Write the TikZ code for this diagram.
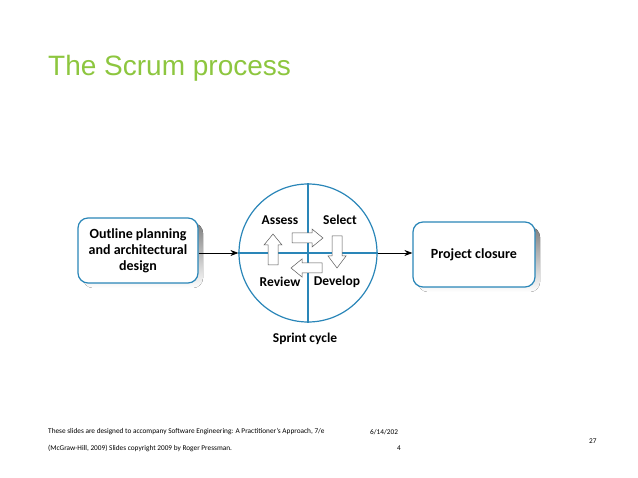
\documentclass[tikz,border=0pt]{standalone}
\usepackage{fontspec}
\setmainfont{Carlito}
\newfontfamily\arialf{Liberation Sans}
\usetikzlibrary{arrows.meta}
\definecolor{sblue}{HTML}{2A86B8}
\definecolor{shade}{HTML}{4FA8D8}
\definecolor{tgreen}{HTML}{8DC63F}
\begin{document}
\begin{tikzpicture}[x=1pt,y=-1pt,
 box/.style={draw=sblue,line width=1.2pt,rounded corners=10pt,fill=white,align=center,font=\bfseries\fontsize{14}{16}\selectfont,inner sep=0pt},
 lbl/.style={font=\bfseries\fontsize{13.5}{15}\selectfont},
 barrow/.style={draw=gray!70!black,fill=white,line width=0.5pt,line join=miter},
 conn/.style={-{Stealth[length=8pt,width=6pt]},line width=0.7pt},
 foot/.style={font=\fontsize{7.3}{8}\selectfont,anchor=west,inner sep=0pt}]
\useasboundingbox (0,0) rectangle (638,478);
\node[font=\arialf\fontsize{28}{30}\selectfont,text=tgreen,anchor=west,inner sep=0pt] (title) at (48,68) {The Scrum process};
% shadows
\fill[shade,rounded corners=10pt] (83,223) rectangle (203,288);
\fill[shade,rounded corners=10pt] (418,227) rectangle (540,292);
\node[box,minimum width=120pt,minimum height=65pt] (out) at (138,250.5) {Outline planning\\and architectural\\design};
\node[box,minimum width=122pt,minimum height=65pt] (clo) at (474,254.5) {Project closure};
\node[circle,draw=sblue,line width=1.2pt,minimum size=138pt,inner sep=0pt] (c) at (308,253) {};
\draw[sblue,line width=1.2pt] (c.north) -- (c.south) (c.west) -- (c.east);
\draw[conn] (out.east |- c.west) -- (c.west);
\draw[conn] (c.east) -- (clo.west |- c.east);
\node[lbl] (as) at (280,220) {Assess};
\node[lbl] (se) at (340,220) {Select};
\node[lbl] (re) at (280,282) {Review};
\node[lbl] (de) at (337,282) {Develop};
\node[lbl] (sp) at (305,339) {Sprint cycle};
% block arrows
\draw[barrow] (292,233) -- (312,233) -- (312,229) -- (323,238) -- (312,247) -- (312,243) -- (292,243) -- cycle;
\draw[barrow] (332,236) -- (342,236) -- (342,256) -- (346,256) -- (337,268) -- (328,256) -- (332,256) -- cycle;
\draw[barrow] (322,263) -- (302,263) -- (302,259) -- (291,268) -- (302,277) -- (302,273) -- (322,273) -- cycle;
\draw[barrow] (268,265) -- (278,265) -- (278,245) -- (282,245) -- (273,234) -- (264,245) -- (268,245) -- cycle;
\node[foot] (f1) at (48,432) {These slides are designed to accompany Software Engineering: A Practitioner's Approach, 7/e};
\node[foot] (f2) at (48,448) {(McGraw-Hill, 2009) Slides copyright 2009 by Roger Pressman.};
\node[foot] (d1) at (370,432) {6/14/202};
\node[foot] (d2) at (397,448) {4};
\node[foot] (pg) at (589,441) {27};
\end{tikzpicture}
\end{document}
